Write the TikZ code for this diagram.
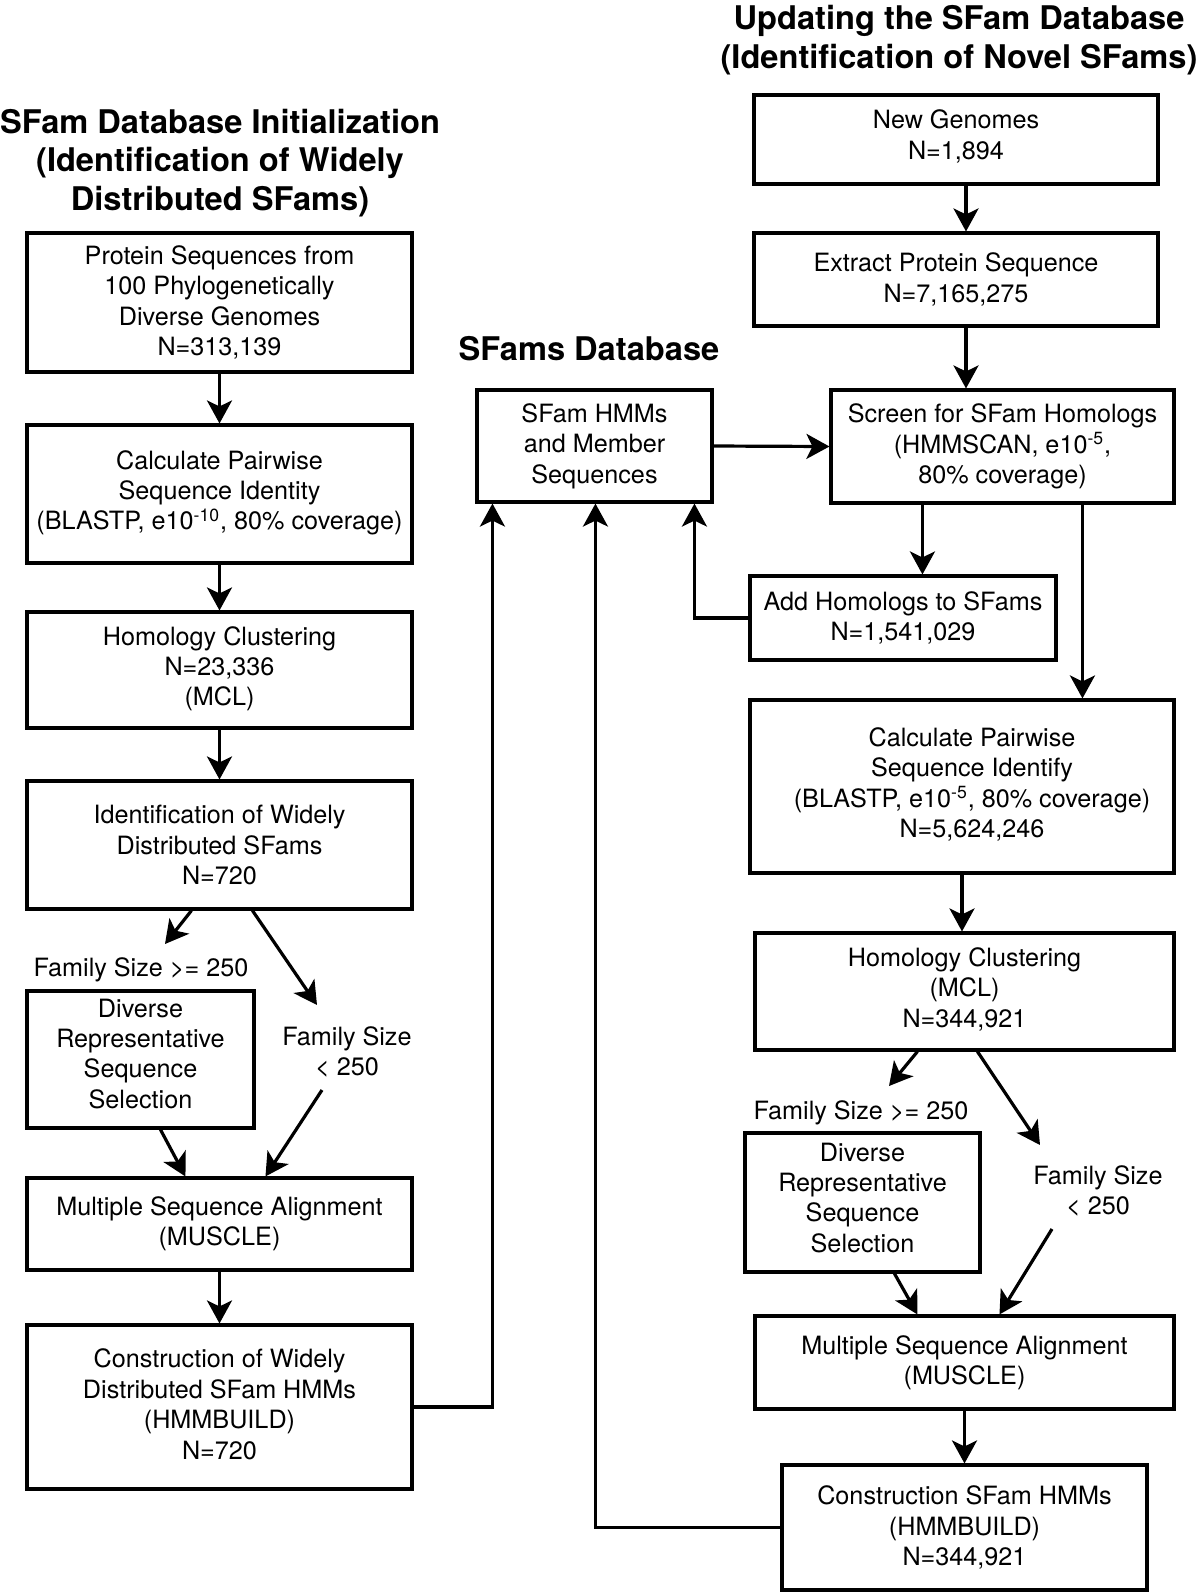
\documentclass[tikz,border=0pt]{standalone}
\usepackage{fontspec}
\setmainfont{TeX Gyre Heros}
\usetikzlibrary{arrows.meta,calc}
\newcommand\mybox[6]{\node[box,minimum width={(#4-#2)*0.5pt},minimum height={(#5-#3)*0.5pt}] (#1) at ({(#2+#4)/2},{(#3+#5)/2}) {#6};}
\begin{document}
\begin{tikzpicture}[x=0.5pt,y=-0.5pt,
  box/.style={draw,line width=1.55pt,inner sep=0pt,align=center,font=\fontsize{12.6}{15.2}\selectfont},
  lbl/.style={align=center,font=\fontsize{12.6}{15.2}\selectfont,inner sep=0pt},
  ttl/.style={align=center,font=\fontsize{16.3}{19.3}\selectfont\bfseries,inner sep=0pt},
  arr/.style={line width=1.6pt,-{Stealth[length=11.5pt,width=12.5pt,inset=3pt]}}]
\useasboundingbox (0,0) rectangle (1200,1592);
% titles
\node[ttl] (tl) at (220,163) {SFam Database Initialization\\(Identification of Widely\\Distributed SFams)};
\node[ttl] (tm) at (589,349) {SFams Database};
\node[ttl] (tr) at (959,40) {Updating the SFam Database\\(Identification of Novel SFams)};
% left column
\mybox{b1}{27}{233}{412}{372}{Protein Sequences from\\100 Phylogenetically\\Diverse Genomes\\N=313,139}
\mybox{b2}{27}{425}{412}{563}{Calculate Pairwise\\Sequence Identity\\(BLASTP, e10\textsuperscript{-10}, 80\% coverage)\rule[-4pt]{0pt}{0pt}}
\mybox{b3}{27}{612}{412}{728}{Homology Clustering\\N=23,336\\(MCL)\rule[-4pt]{0pt}{0pt}}
\mybox{b4}{27}{781}{412}{909}{Identification of Widely\\Distributed SFams\\N=720}
\mybox{b5}{27}{991}{254}{1128}{Diverse\\Representative\\Sequence\\Selection\rule[-6pt]{0pt}{0pt}}
\mybox{b6}{27}{1178}{412}{1270}{Multiple Sequence Alignment\\(MUSCLE)}
\mybox{b7}{27}{1325}{412}{1489}{Construction of Widely\\Distributed SFam HMMs\\(HMMBUILD)\\N=720\rule[-3pt]{0pt}{0pt}}
\node[lbl] (l1) at (141,970) {Family Size >= 250};
\node[lbl] (l2) at (347,1052) {Family Size\\< 250};
% middle
\mybox{hmm}{477}{390}{712}{502}{SFam HMMs\\and Member\\Sequences}
% right column
\mybox{ng}{754}{95}{1158}{184}{New Genomes\\N=1,894\rule[-5pt]{0pt}{0pt}}
\mybox{ex}{754}{233}{1158}{326}{Extract Protein Sequence\\N=7,165,275}
\mybox{scr}{831}{390}{1174}{503}{Screen for SFam Homologs\\(HMMSCAN, e10\textsuperscript{-5},\\80\% coverage)}
\mybox{add}{750}{576}{1056}{660}{Add Homologs to SFams\\N=1,541,029}
\mybox{c2}{750}{700}{1174}{873}{\hspace*{10pt}\begin{tabular}{@{}c@{}}Calculate Pairwise\\Sequence Identify\\(BLASTP, e10\textsuperscript{-5}, 80\% coverage)\\N=5,624,246\rule[-5pt]{0pt}{0pt}\end{tabular}}
\mybox{h2}{755}{933}{1174}{1050}{Homology Clustering\\(MCL)\\N=344,921\rule[-4pt]{0pt}{0pt}}
\mybox{d2}{745}{1133}{980}{1272}{Diverse\\Representative\\Sequence\\Selection\rule[-5pt]{0pt}{0pt}}
\mybox{m2}{755}{1316}{1174}{1409}{Multiple Sequence Alignment\\(MUSCLE)}
\mybox{k2}{782}{1465}{1147}{1590}{Construction SFam HMMs\\(HMMBUILD)\\N=344,921}
\node[lbl] (l3) at (861,1113) {Family Size >= 250};
\node[lbl] (l4) at (1098,1191) {Family Size\\< 250};
% free ends
\coordinate (e1) at (165,944);
\coordinate (e2) at (317,1005);
\coordinate (s3) at (322,1090);
\coordinate (e3) at (889,1086);
\coordinate (e4) at (1040,1145);
\coordinate (s5) at (1052,1229);
% left connectors
\draw[arr] (b1.south) -- (b2.north);
\draw[arr] (b2.south) -- (b3.north);
\draw[arr] (b3.south) -- (b4.north);
\draw[arr] ($(b4.south west)+(166,0)$) -- (e1);
\draw[arr] ($(b4.south west)+(227,0)$) -- (e2);
\draw[arr] (s3) -- ($(b6.north west)+(240,0)$);
\draw[arr] ($(b5.south west)+(135,0)$) -- ($(b6.north west)+(160,0)$);
\draw[arr] (b6.south) -- (b7.north);
\draw[arr] (b7.east) -| ($(hmm.south west)+(17,0)$);
% middle
\draw[arr] (hmm.east) -- (scr.west);
% right connectors
\coordinate (c1) at ($(ng.south)+(10,0)$);
\draw[arr] (c1) -- (c1 |- ex.north);
\coordinate (c3) at ($(ex.south)+(10,0)$);
\draw[arr] (c3) -- (c3 |- scr.north);
\coordinate (c4) at ($(scr.south west)+(93,0)$);
\draw[arr] (c4) -- (c4 |- add.north);
\draw[arr] (add.west) -| ($(hmm.south west)+(219,0)$);
\coordinate (c5) at ($(scr.south west)+(253,0)$);
\draw[arr] (c5) -- (c5 |- c2.north);
\draw[arr] (c2.south) -- (c2.south |- h2.north);
\draw[arr] ($(h2.south west)+(164,0)$) -- (e3);
\draw[arr] ($(h2.south west)+(224,0)$) -- (e4);
\draw[arr] (s5) -- ($(m2.north west)+(246,0)$);
\draw[arr] ($(d2.south west)+(151,0)$) -- ($(m2.north west)+(164,0)$);
\draw[arr] (m2.south) -- (m2.south |- k2.north);
\draw[arr] (k2.west) -| ($(hmm.south west)+(120,0)$);
\end{tikzpicture}
\end{document}
